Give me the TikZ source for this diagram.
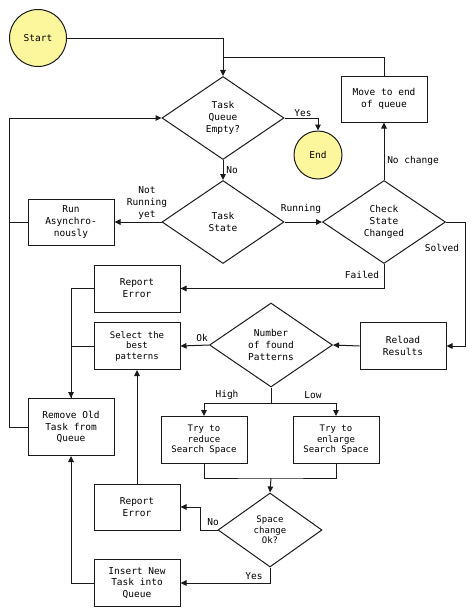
\documentclass[tikz,border=0pt]{standalone}
\usepackage{fontspec}
\setmonofont{DejaVu Sans Mono}
\usetikzlibrary{arrows.meta, shapes.geometric}
\definecolor{cyellow}{HTML}{FCF79C}
\definecolor{cline}{HTML}{1A1A1A}
\tikzset{
  every picture/.style={font=\ttfamily\fontsize{9.5}{11.8}\selectfont, line width=1pt, draw=cline},
  box/.style={draw=cline, rectangle, align=center, minimum width=86pt, minimum height=#1, inner sep=1pt},
  box/.default=47pt,
  decide/.style={draw=cline, diamond, align=center, inner sep=0pt},
  term/.style={draw=cline, circle, fill=cyellow, minimum size=#1, inner sep=0pt},
  arrow/.style={-{Triangle[length=6pt, width=5.5pt]}, draw=cline},
  lbl/.style={font=\ttfamily\fontsize{9.5}{11.8}\selectfont, align=center, inner sep=0pt},
}

\begin{document}
\begin{tikzpicture}[x=1pt, y=-1pt]
  \useasboundingbox (0,0) rectangle (474,616);
  \node[term=57pt] (start) at (38,38) {Start};
  \node[term=48pt] (end) at (318,155) {End};
  \node[decide, minimum width=122pt, minimum height=83pt] (tqe) at (223,118) {Task\\Queue\\Empty?};
  \node[decide, minimum width=122pt, minimum height=83pt] (ts) at (223,222) {Task\\State};
  \node[decide, minimum width=123pt, minimum height=83pt] (csc) at (384,222) {Check\\State\\Changed};
  \node[box=46pt] (move) at (384,99) {Move to end\\of queue};
  \node[box=46pt] (run) at (71,222) {Run\\Asynchro-\\nously};
  \node[box] (err1) at (137,288.5) {Report\\Error};
  \node[box, font=\ttfamily\fontsize{9}{10.5}\selectfont] (sel) at (137,346) {Select the\\best\\patterns};
  \node[decide, minimum width=123pt, minimum height=84pt] (nfp) at (271,345) {Number\\of found\\Patterns};
  \node[box] (reload) at (403,346) {Reload\\Results};
  \node[box, font=\ttfamily\fontsize{9}{10.5}\selectfont] (red) at (204,440) {Try to\\reduce\\Search Space};
  \node[box, font=\ttfamily\fontsize{9}{10.5}\selectfont] (enl) at (336,440) {Try to\\enlarge\\Search Space};
  \node[decide, minimum width=104pt, minimum height=74pt, font=\ttfamily\fontsize{9}{10.5}\selectfont] (sco) at (270,530) {Space\\change\\Ok?};
  \node[box=46pt] (err2) at (137,507) {Report\\Error};
  \node[box] (ins) at (137,583) {Insert New\\Task into\\Queue};
  \node[box=57pt] (remove) at (71,427) {Remove Old\\Task from\\Queue};
  \coordinate (jtop) at (223,57);
  \coordinate (jsolved) at (465,222);
  \coordinate (jleft) at (9,222);
  \coordinate (jremove) at (9,427);
  \coordinate (jsplit) at (271,403);
  \coordinate (jmerge) at (271,478);
  \coordinate (jno) at (200,530);
  \draw[arrow] (start) -| (tqe);
  \draw (move.north) |- (jtop);
  \draw[arrow] (tqe.east) -| (end.north);
  \draw[arrow] (tqe.south) -- (ts.north);
  \draw[arrow] (ts.east) -- (csc.west);
  \draw[arrow] (ts.west) -- (run.east);
  \draw[arrow] (csc.north) -- (move.south);
  \draw[arrow] (csc.east) -- (jsolved) |- (reload.east);
  \draw[arrow] (csc.south) |- (err1.east);
  \draw (run.west) -- (jleft);
  \draw[arrow] (remove.west) -- (jremove) |- (tqe.west);
  \draw[arrow] (err1.west) -| (remove.north);
  \draw (sel.west) -| (remove.north);
  \draw[arrow] (nfp.west) -- (sel.east);
  \draw[arrow] (reload.west) -- (nfp.east);
  \draw (nfp.south) -- (jsplit);
  \draw[arrow] (jsplit) -| (red.north);
  \draw[arrow] (jsplit) -| (enl.north);
  \draw (red.south) |- (jmerge) -| (enl.south);
  \draw[arrow] (jmerge) -- (sco.north);
  \draw[arrow] (sco.west) -- (jno) |- (err2.east);
  \draw[arrow] (sco.south) |- (ins.east);
  \draw[arrow] (err2.north) -- (sel.south);
  \draw[arrow] (ins.west) -| (remove.south);
  \node[lbl] (lyes) at (303,113) {Yes};
  \node[lbl] (lno) at (232,170) {No};
  \node[lbl] (lnotrun) at (147,203) {Not\\Running\\yet};
  \node[lbl] (lrun) at (301,209) {Running};
  \node[lbl] (lnochange) at (413,161) {No change};
  \node[lbl] (lsolved) at (442,248) {Solved};
  \node[lbl] (lfailed) at (362,275) {Failed};
  \node[lbl] (lok) at (202,338) {Ok};
  \node[lbl] (lhigh) at (227,395) {High};
  \node[lbl] (llow) at (313,395) {Low};
  \node[lbl] (lno2) at (213,522) {No};
  \node[lbl] (lyes2) at (254,576) {Yes};
\end{tikzpicture}
\end{document}
